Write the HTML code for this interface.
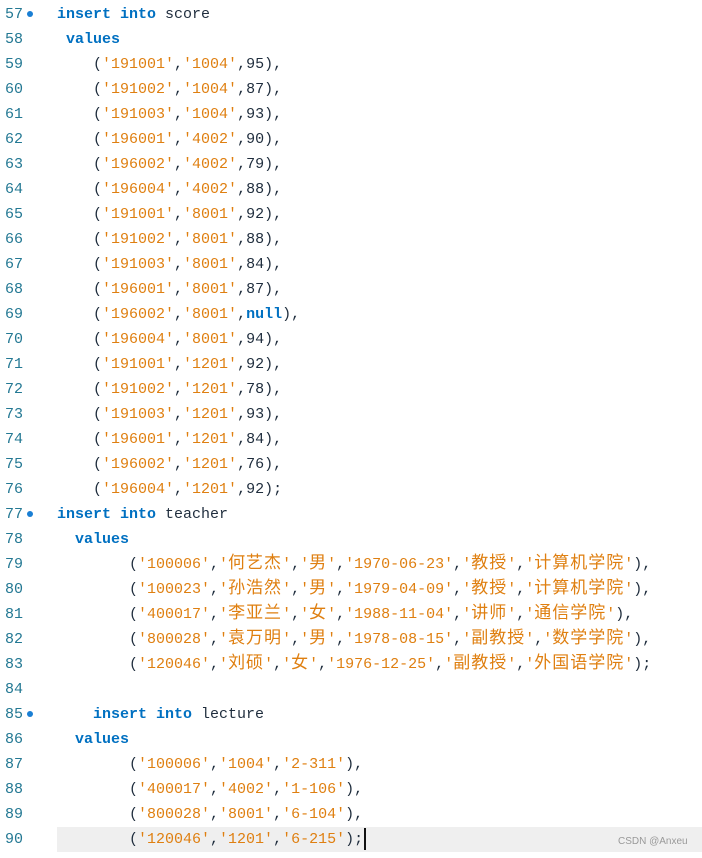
<!DOCTYPE html>
<html><head><meta charset="utf-8"><style>
body{margin:0;width:702px;height:858px;background:#fff;position:relative;overflow:hidden;font-family:"Liberation Mono","Noto Sans CJK SC",monospace;font-size:15px;}
.l{position:absolute;height:25px;line-height:25px;white-space:pre;color:#1f2d3d;}
.n{position:absolute;left:5px;height:25px;line-height:25px;color:#237893;font-size:15px;}
.d{position:absolute;left:27px;width:6px;height:6px;border-radius:3px;background:#1a7fd4;}
.k{color:#0070c1;font-weight:bold;}
.s{color:#df7f10;}
.c{font-family:"Noto Sans CJK SC",sans-serif;font-size:17px;line-height:0;letter-spacing:1px;}
.hl{position:absolute;left:57px;top:827px;width:645px;height:25px;background:#efefef;}
</style></head><body>
<div class="hl"></div>
<div class="n" style="top:2px">57</div><div class="d" style="top:11px"></div>
<div class="l" style="top:2px;left:57px"><span class="k">insert into</span> score</div>
<div class="n" style="top:27px">58</div>
<div class="l" style="top:27px;left:66px"><span class="k">values</span></div>
<div class="n" style="top:52px">59</div><div class="l" style="top:52px;left:93px">(<span class="s">'191001'</span>,<span class="s">'1004'</span>,95),</div>
<div class="n" style="top:77px">60</div><div class="l" style="top:77px;left:93px">(<span class="s">'191002'</span>,<span class="s">'1004'</span>,87),</div>
<div class="n" style="top:102px">61</div><div class="l" style="top:102px;left:93px">(<span class="s">'191003'</span>,<span class="s">'1004'</span>,93),</div>
<div class="n" style="top:127px">62</div><div class="l" style="top:127px;left:93px">(<span class="s">'196001'</span>,<span class="s">'4002'</span>,90),</div>
<div class="n" style="top:152px">63</div><div class="l" style="top:152px;left:93px">(<span class="s">'196002'</span>,<span class="s">'4002'</span>,79),</div>
<div class="n" style="top:177px">64</div><div class="l" style="top:177px;left:93px">(<span class="s">'196004'</span>,<span class="s">'4002'</span>,88),</div>
<div class="n" style="top:202px">65</div><div class="l" style="top:202px;left:93px">(<span class="s">'191001'</span>,<span class="s">'8001'</span>,92),</div>
<div class="n" style="top:227px">66</div><div class="l" style="top:227px;left:93px">(<span class="s">'191002'</span>,<span class="s">'8001'</span>,88),</div>
<div class="n" style="top:252px">67</div><div class="l" style="top:252px;left:93px">(<span class="s">'191003'</span>,<span class="s">'8001'</span>,84),</div>
<div class="n" style="top:277px">68</div><div class="l" style="top:277px;left:93px">(<span class="s">'196001'</span>,<span class="s">'8001'</span>,87),</div>
<div class="n" style="top:302px">69</div><div class="l" style="top:302px;left:93px">(<span class="s">'196002'</span>,<span class="s">'8001'</span>,<span class="k">null</span>),</div>
<div class="n" style="top:327px">70</div><div class="l" style="top:327px;left:93px">(<span class="s">'196004'</span>,<span class="s">'8001'</span>,94),</div>
<div class="n" style="top:352px">71</div><div class="l" style="top:352px;left:93px">(<span class="s">'191001'</span>,<span class="s">'1201'</span>,92),</div>
<div class="n" style="top:377px">72</div><div class="l" style="top:377px;left:93px">(<span class="s">'191002'</span>,<span class="s">'1201'</span>,78),</div>
<div class="n" style="top:402px">73</div><div class="l" style="top:402px;left:93px">(<span class="s">'191003'</span>,<span class="s">'1201'</span>,93),</div>
<div class="n" style="top:427px">74</div><div class="l" style="top:427px;left:93px">(<span class="s">'196001'</span>,<span class="s">'1201'</span>,84),</div>
<div class="n" style="top:452px">75</div><div class="l" style="top:452px;left:93px">(<span class="s">'196002'</span>,<span class="s">'1201'</span>,76),</div>
<div class="n" style="top:477px">76</div><div class="l" style="top:477px;left:93px">(<span class="s">'196004'</span>,<span class="s">'1201'</span>,92);</div>
<div class="n" style="top:502px">77</div><div class="d" style="top:511px"></div>
<div class="l" style="top:502px;left:57px"><span class="k">insert into</span> teacher</div>
<div class="n" style="top:527px">78</div><div class="l" style="top:527px;left:75px"><span class="k">values</span></div>
<div class="n" style="top:552px">79</div><div class="l" style="top:552px;left:129px">(<span class="s">'100006'</span>,<span class="s">'<span class="c">何艺杰</span>'</span>,<span class="s">'<span class="c">男</span>'</span>,<span class="s">'1970-06-23'</span>,<span class="s">'<span class="c">教授</span>'</span>,<span class="s">'<span class="c">计算机学院</span>'</span>),</div>
<div class="n" style="top:577px">80</div><div class="l" style="top:577px;left:129px">(<span class="s">'100023'</span>,<span class="s">'<span class="c">孙浩然</span>'</span>,<span class="s">'<span class="c">男</span>'</span>,<span class="s">'1979-04-09'</span>,<span class="s">'<span class="c">教授</span>'</span>,<span class="s">'<span class="c">计算机学院</span>'</span>),</div>
<div class="n" style="top:602px">81</div><div class="l" style="top:602px;left:129px">(<span class="s">'400017'</span>,<span class="s">'<span class="c">李亚兰</span>'</span>,<span class="s">'<span class="c">女</span>'</span>,<span class="s">'1988-11-04'</span>,<span class="s">'<span class="c">讲师</span>'</span>,<span class="s">'<span class="c">通信学院</span>'</span>),</div>
<div class="n" style="top:627px">82</div><div class="l" style="top:627px;left:129px">(<span class="s">'800028'</span>,<span class="s">'<span class="c">袁万明</span>'</span>,<span class="s">'<span class="c">男</span>'</span>,<span class="s">'1978-08-15'</span>,<span class="s">'<span class="c">副教授</span>'</span>,<span class="s">'<span class="c">数学学院</span>'</span>),</div>
<div class="n" style="top:652px">83</div><div class="l" style="top:652px;left:129px">(<span class="s">'120046'</span>,<span class="s">'<span class="c">刘硕</span>'</span>,<span class="s">'<span class="c">女</span>'</span>,<span class="s">'1976-12-25'</span>,<span class="s">'<span class="c">副教授</span>'</span>,<span class="s">'<span class="c">外国语学院</span>'</span>);</div>
<div class="n" style="top:677px">84</div>
<div class="n" style="top:702px">85</div><div class="d" style="top:711px"></div>
<div class="l" style="top:702px;left:93px"><span class="k">insert into</span> lecture</div>
<div class="n" style="top:727px">86</div><div class="l" style="top:727px;left:75px"><span class="k">values</span></div>
<div class="n" style="top:752px">87</div><div class="l" style="top:752px;left:129px">(<span class="s">'100006'</span>,<span class="s">'1004'</span>,<span class="s">'2-311'</span>),</div>
<div class="n" style="top:777px">88</div><div class="l" style="top:777px;left:129px">(<span class="s">'400017'</span>,<span class="s">'4002'</span>,<span class="s">'1-106'</span>),</div>
<div class="n" style="top:802px">89</div><div class="l" style="top:802px;left:129px">(<span class="s">'800028'</span>,<span class="s">'8001'</span>,<span class="s">'6-104'</span>),</div>
<div class="n" style="top:827px">90</div><div class="l" style="top:827px;left:129px">(<span class="s">'120046'</span>,<span class="s">'1201'</span>,<span class="s">'6-215'</span>);</div>
<div style="position:absolute;left:364px;top:828px;width:1.5px;height:22px;background:#111"></div>
<div style="position:absolute;left:618px;top:836px;font-family:'Liberation Sans',sans-serif;font-size:10px;color:#999">CSDN @Anxeu</div>
</body></html>
